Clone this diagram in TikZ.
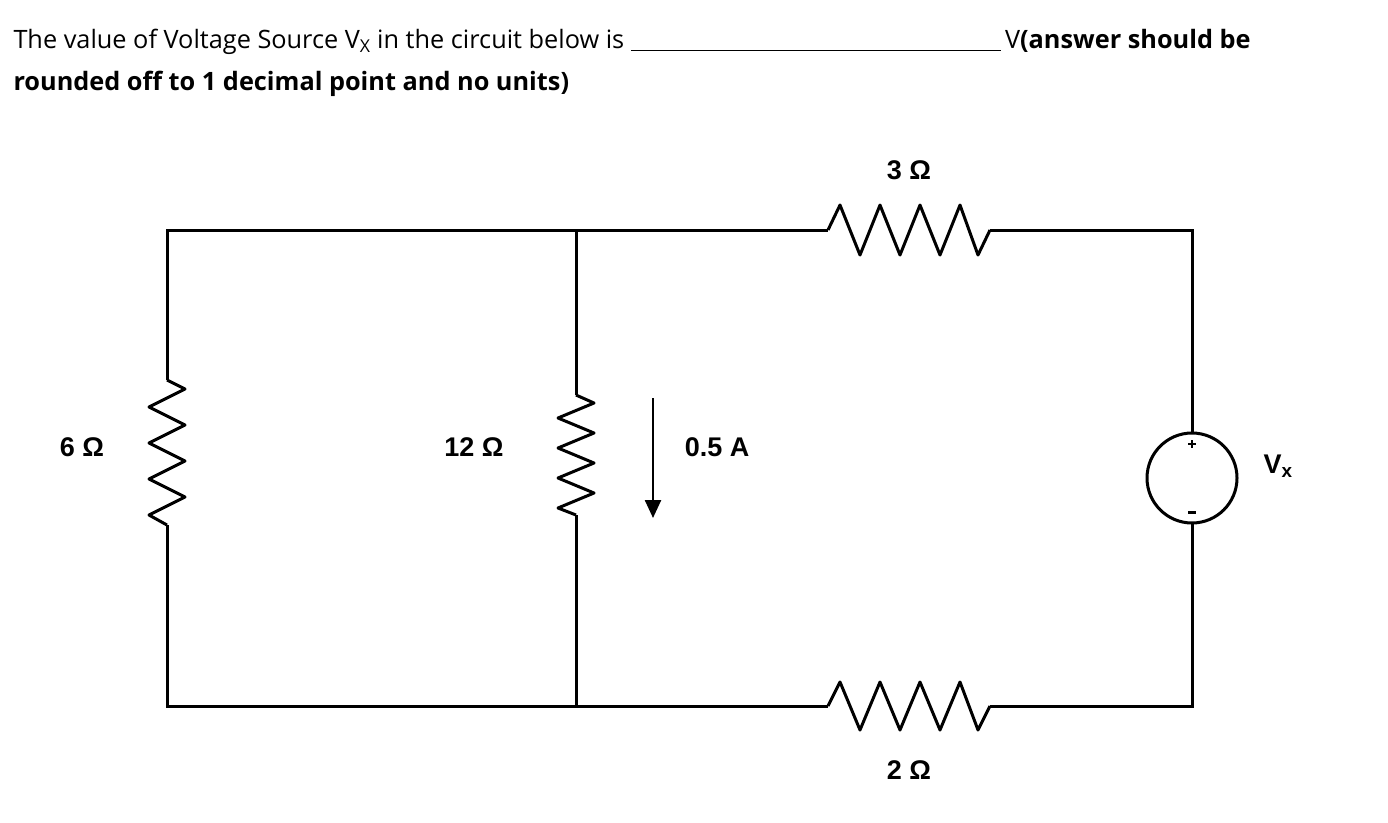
\documentclass[tikz,border=0pt]{standalone}
\usepackage{fontspec}
\setmainfont{Open Sans}
\newfontfamily\cfont{Liberation Sans}
\usetikzlibrary{arrows.meta}
\begin{document}
\begin{tikzpicture}[x=1pt,y=-1pt,line width=3pt,
  lbl/.style={font=\cfont\bfseries\fontsize{27}{30}\selectfont},
  txt/.style={font=\fontsize{25.3}{28}\selectfont,anchor=west,inner sep=0}]
\useasboundingbox (0,0) rectangle (1388,822);
\node[txt] (t1) at (12,42) {The value of Voltage Source V\textsubscript{X} in the circuit below is \rule[-2pt]{370pt}{0.8pt}\,V\textbf{(answer should be}};
\node[txt] (t2) at (12,84) {\textbf{rounded off to 1 decimal point and no units)}};
% wires
\draw (167,380) -- (167,230) -- (828,230);
\draw (576,230) -- (576,395);
\draw (990,230) -- (1192,230) -- (1192,433);
\draw (1192,523) -- (1192,706) -- (990,706);
\draw (828,706) -- (167,706) -- (167,525);
\draw (576,706) -- (576,515);
% top resistor
\draw[line join=round] (828,230) -- (840,205) -- (860,255) -- (880,205) -- (900,255) -- (920,205) -- (940,255) -- (960,205) -- (978,255) -- (990,230);
\node[lbl] (r3) at (909,170) {3 Ω};
% bottom resistor
\draw[line join=round] (828,706) -- (840,682) -- (860,730) -- (880,682) -- (900,730) -- (920,682) -- (940,730) -- (960,682) -- (978,730) -- (990,706);
\node[lbl] (r2) at (909,770) {2 Ω};
% left resistor
\draw[line join=round] (167,380) -- (185,389) -- (149,407) -- (185,425) -- (149,443) -- (185,461) -- (149,479) -- (185,497) -- (149,515) -- (167,525);
\node[lbl] (r6) at (82,447) {6 Ω};
% middle resistor
\draw[line join=round] (576,395) -- (594,403) -- (558,418) -- (594,433) -- (558,448) -- (594,463) -- (558,478) -- (594,493) -- (558,508) -- (576,515);
\node[lbl] (r12) at (474,447) {12 Ω};
% current arrow
\coordinate (a1) at (653,398);
\coordinate (a2) at (653,518);
\draw[line width=2.5pt,-{Triangle[length=18pt,width=16pt]}] (a1) -- (a2);
\node[lbl,anchor=west] (cur) at (680,447) {0.5 A};
% source
\node[draw,circle,minimum size=90pt,inner sep=0,line width=3pt] (vs) at (1192,478) {};
\draw[line width=2.5pt] (1188,444) -- (1196,444) (1192,440) -- (1192,448);
\draw[line width=3pt] (1188,512) -- (1196,512);
\node[lbl] (vx) at (1278,466) {V\textsubscript{x}};
\end{tikzpicture}
\end{document}
